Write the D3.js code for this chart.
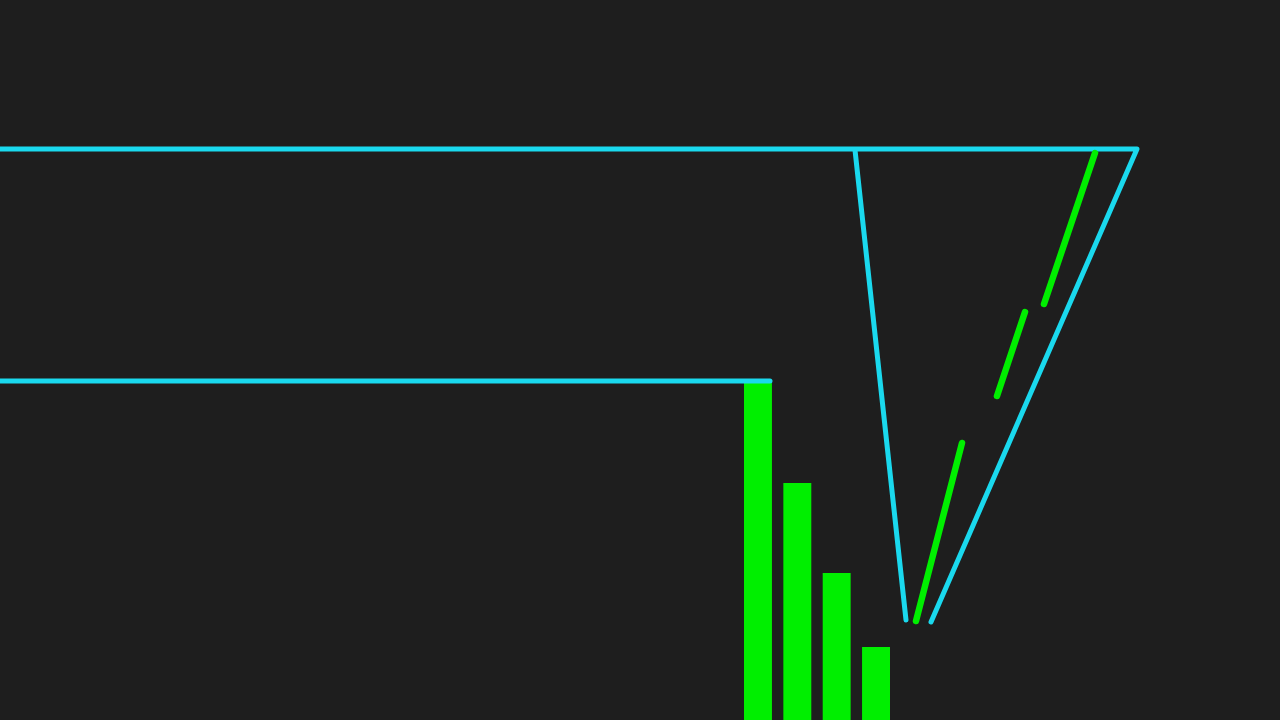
<!DOCTYPE html>
<html>
<head>
<meta charset="utf-8">
<script src="https://cdn.jsdelivr.net/npm/d3@7"></script>
<style>
  html, body { margin: 0; padding: 0; background: #1e1e1e; overflow: hidden; }
  svg { display: block; }
</style>
</head>
<body>
<div id="chart"></div>
<script>
// values in chart units (x 0..128, y 0..72, y up)
var barLabels = ["a", "b", "c", "d"],
	barValues = [33.7, 23.7, 14.7, 7.3],
	topLine = [[0, 57.1], [113.7, 57.1], [93.1, 9.8]],
	lowLine = [[0, 33.9], [77.0, 33.9]],
	leftLeg = [[85.5, 57.0], [90.6, 10.0]],
	// broken green leg, drawn as separate pieces
	dashSegments = [
		[[91.6, 9.9], [96.2, 27.7]],
		[[99.7, 32.4], [102.5, 40.8]],
		[[104.4, 41.6], [109.5, 56.7]]
	];

var
	width = 1280,
	height = 720,
	cyan = "#1ad9ee",
	green = "#00ef00",

	x = d3.scaleLinear().domain([0, 128]).range([0, width]),
	y = d3.scaleLinear().domain([0, 72]).range([height, 0]),
	band = d3.scaleBand()
		.domain(barLabels)
		.range([x(74.4), x(89.0)])
		.paddingInner(0.29)
		.paddingOuter(0),

	line = d3.line().x(d => x(d[0])).y(d => y(d[1])),

	svg = d3.select("#chart")
		.append("svg")
		.attr("width", width)
		.attr("height", height)
		.style("background", "#1e1e1e");

// bars
svg.append("g")
	.attr("fill", green)
	.selectAll("rect")
	.data(barValues)
	.join("rect")
	.attr("x", (d, i) => band(barLabels[i]))
	.attr("width", band.bandwidth())
	.attr("y", d => y(d))
	.attr("height", d => y(0) - y(d));

// cyan lines
svg.append("g")
	.attr("fill", "none")
	.attr("stroke", cyan)
	.attr("stroke-width", 5)
	.attr("stroke-linecap", "round")
	.attr("stroke-linejoin", "round")
	.selectAll("path")
	.data([lowLine, topLine, leftLeg])
	.join("path")
	.attr("d", line);

// green pieces
svg.append("g")
	.attr("fill", "none")
	.attr("stroke", green)
	.attr("stroke-width", 6.5)
	.attr("stroke-linecap", "round")
	.selectAll("path")
	.data(dashSegments)
	.join("path")
	.attr("d", line);
</script>
</body>
</html>
